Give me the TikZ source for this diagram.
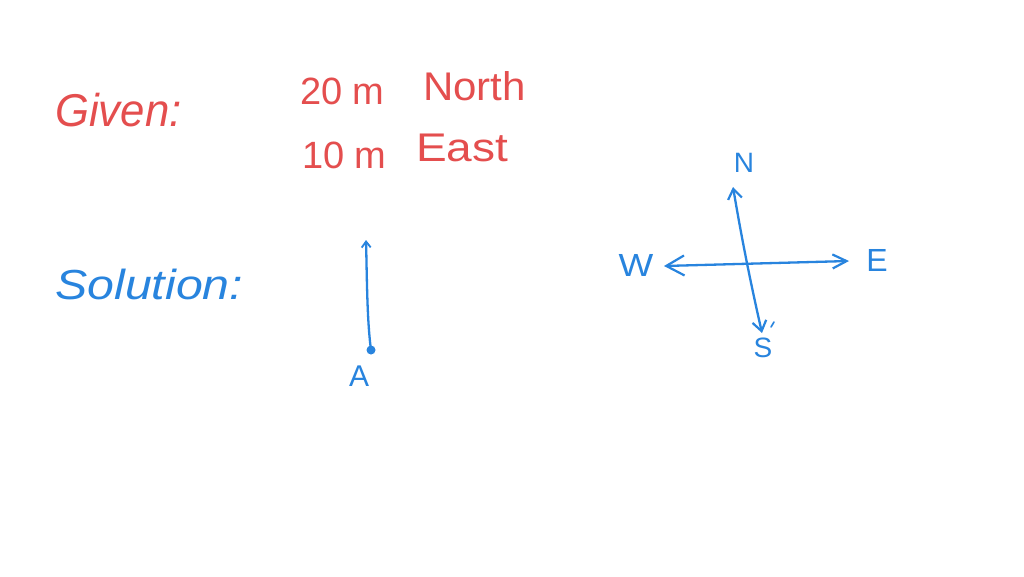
\documentclass[tikz,border=0pt]{standalone}
\usepackage{fontspec}
\setmainfont{Liberation Sans}
\usetikzlibrary{arrows.meta}
\definecolor{pen red}{RGB}{228,78,78}
\definecolor{pen blue}{RGB}{40,132,222}
\tikzset{
  redtxt/.style={text=pen red, inner sep=0pt, anchor=base west},
  bluetxt/.style={text=pen blue, inner sep=0pt},
  pen/.style={draw=pen blue, line width=2.3pt, line cap=round, line join=round},
}
\begin{document}
\begin{tikzpicture}[x=1pt,y=-1pt]
\useasboundingbox[fill=white] (0,0) rectangle (1024,576);
% Given
\node[redtxt, font=\fontsize{46}{50}\selectfont\itshape, xscale=0.95] (given) at (55,126) {Given:};
\node[redtxt, font=\fontsize{38}{42}\selectfont] (d1) at (300,104) {20 m};
\node[redtxt, font=\fontsize{40}{44}\selectfont, xscale=1.05] (dir1) at (423,100) {North};
\node[redtxt, font=\fontsize{38}{42}\selectfont] (d2) at (302,168) {10 m};
\node[redtxt, font=\fontsize{40}{44}\selectfont, xscale=1.15] (dir2) at (416,161) {East};
% Solution
\node[bluetxt, anchor=base west, font=\fontsize{42}{46}\selectfont\itshape, xscale=1.15] (sol) at (55,299) {Solution:};
% point A
\coordinate (Apt) at (371,350);
\coordinate (Atip) at (366,240);
\fill[pen blue] (Apt) circle (4.5);
\draw[pen, -{Straight Barb[length=6pt,width=9pt,line width=1.8pt]}] (Apt) .. controls (367,320) and (367,280) .. (Atip);
\node[bluetxt, font=\fontsize{30}{32}\selectfont] (A) at (359,376) {A};
% compass
\coordinate (nTip) at (733,187);
\coordinate (sTip) at (762,333);
\coordinate (wTip) at (664,266);
\coordinate (eTip) at (849,261);
\draw[pen, {Straight Barb[length=10pt,width=14pt,line width=2.2pt]}-{Straight Barb[length=10pt,width=14pt,line width=2.2pt]}] (nTip) .. controls (742,240) and (750,280) .. (sTip);
\draw[pen, {Straight Barb[length=18pt,width=20pt,line width=2.2pt]}-{Straight Barb[length=14pt,width=14pt,line width=2.2pt]}] (wTip) -- (eTip);
\draw[pen, line width=1.6pt] (771,327) -- (774,322);
\node[bluetxt, font=\fontsize{28}{30}\selectfont] (N) at (744,163) {N};
\node[bluetxt, font=\fontsize{32}{34}\selectfont, xscale=1.15] (W) at (636,265) {W};
\node[bluetxt, font=\fontsize{32}{34}\selectfont] (E) at (877,260) {E};
\node[bluetxt, font=\fontsize{28}{30}\selectfont] (S) at (763,348) {S};
\end{tikzpicture}
\end{document}
